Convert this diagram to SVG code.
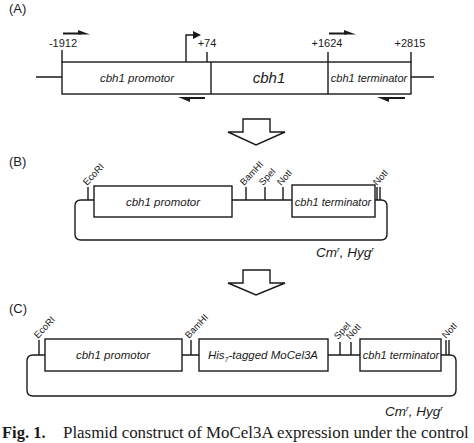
<svg xmlns="http://www.w3.org/2000/svg" width="474" height="443" viewBox="0 0 474 443">
<style>
.ln{fill:none;stroke:#1a1a1a;stroke-width:1.4}
.bx{fill:#fff;stroke:#1a1a1a;stroke-width:1.4}
.t{font-family:"Liberation Sans",Arial,sans-serif;fill:#1a1a1a}
.gi{font-family:"Liberation Sans",Arial,sans-serif;font-style:italic;fill:#1a1a1a;text-anchor:middle}
.rs{font-family:"Liberation Sans",Arial,sans-serif;font-size:9.5px;fill:#1a1a1a}
.pa{fill:#1a1a1a}
</style>
<text class="t" x="9" y="13" font-size="13">(A)</text>
<text class="t" x="9" y="166" font-size="13">(B)</text>
<text class="t" x="9" y="313" font-size="13">(C)</text>

<g id="connectors">
<path class="ln" d="M36,77 H62 M411,77 H434"/>
<path class="ln" d="M62,50 V62 M207,52 V62 M328,52 V62 M411,52 V62"/>
<path class="ln" d="M186,62 V35 H194"/>
<polygon class="pa" points="193,31 201,35 193,39"/>
<path class="ln" d="M81,200 H381 Q387,200 387,206 V234 Q387,240 381,240 H81 Q75,240 75,234 V206 Q75,200 81,200 Z"/>
<path class="ln" d="M88,187 V200 M246,187 V200 M265,187 V200 M283,187 V200 M377,187 V200 M380,187 V200"/>
<path class="ln" d="M33,355 H450 Q456,355 456,361 V390 Q456,396 450,396 H33 Q27,396 27,390 V361 Q27,355 33,355 Z"/>
<path class="ln" d="M39,340 V355 M191,340 V355 M340,342 V355 M351,342 V355 M446,340 V355 M449,340 V355"/>
</g>

<g id="primers">
<rect class="pa" x="63" y="32.5" width="18" height="2"/>
<polygon class="pa" points="78,30 90,34.5 78,34.5"/>
<rect class="pa" x="188" y="97" width="17" height="2"/>
<polygon class="pa" points="178,97 190,97 190,102"/>
<rect class="pa" x="329" y="32.5" width="18" height="2"/>
<polygon class="pa" points="344,30 356,34.5 344,34.5"/>
<rect class="pa" x="387" y="97" width="18" height="2"/>
<polygon class="pa" points="377,97 389,97 389,102"/>
</g>

<g id="locusA">
<rect class="bx" x="62" y="62" width="349" height="32"/>
<path class="ln" d="M211,62 V94 M328,62 V94"/>
<text class="gi" x="137" y="82" font-size="11.5">cbh1 promotor</text>
<text class="gi" x="269" y="83" font-size="15">cbh1</text>
<text class="gi" x="369" y="82" font-size="11">cbh1 terminator</text>
<text class="t" x="63" y="47" font-size="11" text-anchor="middle">-1912</text>
<text class="t" x="207" y="47" font-size="11" text-anchor="middle">+74</text>
<text class="t" x="327" y="47" font-size="11" text-anchor="middle">+1624</text>
<text class="t" x="410" y="47" font-size="11" text-anchor="middle">+2815</text>
</g>

<g id="arrow1"><polygon class="bx" points="243,119 270,119 270,132 285,132 256,145 228,132 243,132"/></g>
<g id="arrow2"><polygon class="bx" points="243,270 270,270 270,283 285,283 256,295 228,283 243,283"/></g>

<g id="plasmidB">
<rect class="bx" x="94" y="186" width="138" height="31"/>
<rect class="bx" x="292" y="185" width="83" height="32"/>
<text class="gi" x="163" y="206" font-size="11.5">cbh1 promotor</text>
<text class="gi" x="333" y="206" font-size="11">cbh1 terminator</text>
<text class="rs" transform="translate(87,186) rotate(-47)">EcoRI</text>
<text class="rs" transform="translate(244,186) rotate(-47)">BamHI</text>
<text class="rs" transform="translate(263,186) rotate(-47)">SpeI</text>
<text class="rs" transform="translate(281,186) rotate(-47)">NotI</text>
<text class="rs" transform="translate(377,186) rotate(-47)">NotI</text>
<text class="gi" x="345" y="257" font-size="13.5">Cm<tspan font-size="8" dy="-5">r</tspan><tspan dy="5">, Hyg</tspan><tspan font-size="8" dy="-5">r</tspan></text>
</g>

<g id="plasmidC">
<rect class="bx" x="45" y="339" width="137" height="32"/>
<rect class="bx" x="199" y="339" width="129" height="32"/>
<rect class="bx" x="360" y="339" width="81" height="32"/>
<text class="gi" x="113" y="359" font-size="11.5">cbh1 promotor</text>
<text class="gi" x="263" y="359" font-size="11.5">His<tspan font-size="7" dy="3">7</tspan><tspan dy="-3">-tagged MoCel3A</tspan></text>
<text class="gi" x="401" y="359" font-size="11">cbh1 terminator</text>
<text class="rs" transform="translate(38,339) rotate(-47)">EcoRI</text>
<text class="rs" transform="translate(189,339) rotate(-47)">BamHI</text>
<text class="rs" transform="translate(338,340) rotate(-47)">SpeI</text>
<text class="rs" transform="translate(350,340) rotate(-47)">NotI</text>
<text class="rs" transform="translate(446,339) rotate(-47)">NotI</text>
<text class="gi" x="414" y="416" font-size="13.5">Cm<tspan font-size="8" dy="-5">r</tspan><tspan dy="5">, Hyg</tspan><tspan font-size="8" dy="-5">r</tspan></text>
</g>

<text font-family="'Liberation Serif','Times New Roman',serif" fill="#1a1a1a" y="438"><tspan x="2" font-size="16.5" font-weight="bold">Fig. 1.</tspan><tspan x="63" font-size="16.9">Plasmid construct of MoCel3A expression under the control</tspan></text>
</svg>
